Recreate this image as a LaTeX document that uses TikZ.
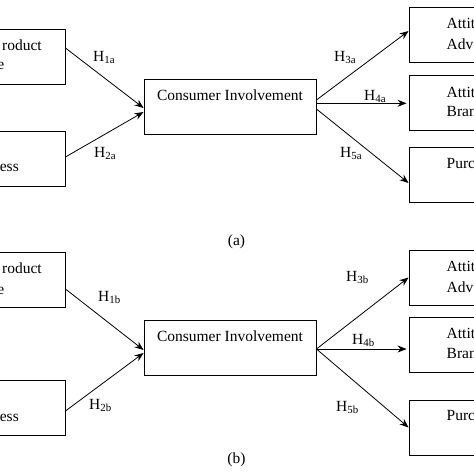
\documentclass[tikz,border=0pt]{standalone}
\usepackage{fontspec}
\setmainfont{Liberation Serif}
\usetikzlibrary{arrows.meta}

\begin{document}
\begin{tikzpicture}[x=1pt,y=-1pt,font=\fontsize{15.5}{18}\selectfont,
  box/.style={draw,line width=.9pt,minimum height=55pt,inner sep=0pt},
  arr/.style={-{Stealth[length=9pt,width=7pt]},line width=.8pt},
  hyp/.style={anchor=base west,inner sep=0pt},
  txt/.style={anchor=base,inner sep=0pt},
  fe/.style={anchor=base east,inner sep=0pt},
  fw/.style={anchor=base west,inner sep=0pt}]
\useasboundingbox (0,0) rectangle (474,474);
\clip (0,0) rectangle (474,474);
% (a)
\node[box,minimum width=130pt] (ppva) at (0,56.5) {};
\node[box,minimum width=130pt] (pawa) at (0,158.5) {};
\node[box,minimum width=172pt] (cia) at (230,106.5) {};
\node[box,minimum width=130pt] (aada) at (474,35) {};
\node[box,minimum width=130pt] (aba) at (474,103.3) {};
\node[box,minimum width=130pt] (pia) at (474,175) {};
\node[fe] (ppva1) at (42,50) {roduct};
\node[fe] (ppva2) at (4.5,69) {e};
\node[fe] (pawa1) at (19,171) {ess};
\node[txt] (cia1) at (230,100) {Consumer Involvement};
\node[fw] (aada1) at (446.5,28) {Attit};
\node[fw] (aada2) at (446.5,49) {Adv};
\node[fw] (aba1) at (446.5,97) {Attit};
\node[fw] (aba2) at (446.5,116) {Bran};
\node[fw] (pia1) at (446.5,168) {Purc};
\draw[arr] ([yshift=8.5pt]ppva.east) -- ([yshift=-1.5pt]cia.west);
\draw[arr] ([yshift=1.5pt]pawa.east) -- ([yshift=-5.5pt]cia.west);
\draw[arr] ([yshift=6.5pt]cia.east) -- ([yshift=4pt]aada.west);
\draw[arr] ([yshift=3.2pt]cia.east) -- ([xshift=-2pt]aba.west);
\draw[arr] ([yshift=-2.5pt]cia.east) -- ([yshift=-8pt]pia.west);
\node[hyp] (h1a) at (93,61) {H\textsubscript{1a}};
\node[hyp] (h2a) at (94,157) {H\textsubscript{2a}};
\node[hyp] (h3a) at (334,61) {H\textsubscript{3a}};
\node[hyp] (h4a) at (364,100) {H\textsubscript{4a}};
\node[hyp] (h5a) at (340,157) {H\textsubscript{5a}};
\node[txt] (capa) at (236.5,245) {(a)};
% (b)
\node[box,minimum width=130pt] (ppvb) at (0,280) {};
\node[box,minimum width=130pt] (pawb) at (0,407.5) {};
\node[box,minimum width=172pt] (cib) at (230,347.5) {};
\node[box,minimum width=130pt] (aadb) at (474,277.5) {};
\node[box,minimum width=130pt] (abb) at (474,344.5) {};
\node[box,minimum width=130pt] (pib) at (474,427.5) {};
\node[fe] (ppvb1) at (42,273) {roduct};
\node[fe] (ppvb2) at (4.5,294) {e};
\node[fe] (pawb1) at (19,421) {ess};
\node[txt] (cib1) at (230,341) {Consumer Involvement};
\node[fw] (aadb1) at (446.5,271) {Attit};
\node[fw] (aadb2) at (446.5,292) {Adv};
\node[fw] (abb1) at (446.5,338) {Attit};
\node[fw] (abb2) at (446.5,358) {Bran};
\node[fw] (pib1) at (446.5,420) {Purc};
\draw[arr] ([yshift=-9pt]ppvb.east) -- ([yshift=-2.5pt]cib.west);
\draw[arr] ([yshift=-3.5pt]pawb.east) -- ([yshift=-5.5pt]cib.west);
\draw[arr] ([yshift=-1.5pt]cib.east) -- (aadb.west);
\draw[arr] ([yshift=-1.5pt]cib.east) -- ([xshift=-2pt,yshift=-4.5pt]abb.west);
\draw[arr] ([yshift=-1.5pt]cib.east) -- (pib.west);
\node[hyp] (h1b) at (98,301) {H\textsubscript{1b}};
\node[hyp] (h2b) at (89,409) {H\textsubscript{2b}};
\node[hyp] (h3b) at (346,281) {H\textsubscript{3b}};
\node[hyp] (h4b) at (352,344) {H\textsubscript{4b}};
\node[hyp] (h5b) at (336,411) {H\textsubscript{5b}};
\node[txt] (capb) at (236.5,463.5) {(b)};
\end{tikzpicture}
\end{document}
